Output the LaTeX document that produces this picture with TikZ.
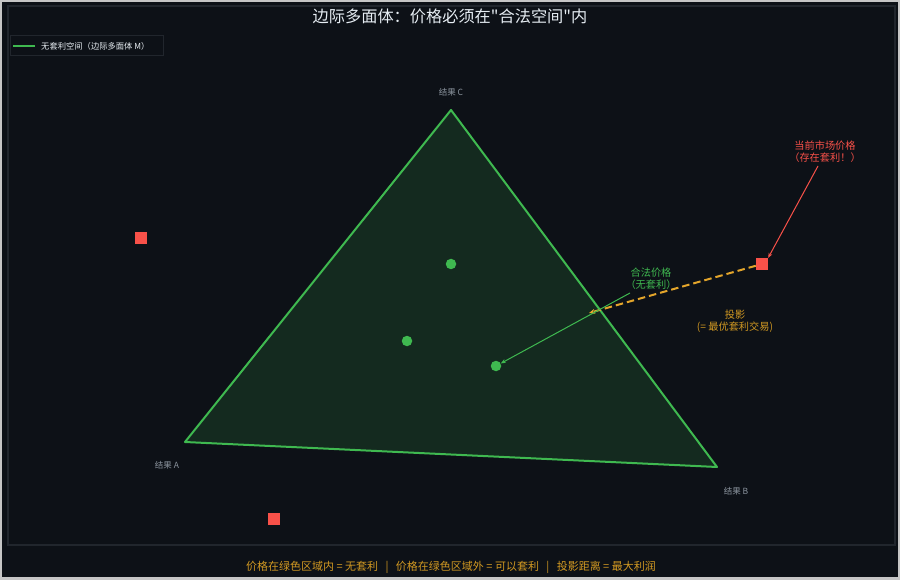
\documentclass[tikz,border=0pt]{standalone}
\usepackage{fontspec}
\setmainfont{Noto Sans CJK SC}
\newfontfamily\plaincjk{Noto Sans CJK SC}
\usetikzlibrary{arrows.meta, positioning}

\definecolor{bgdark}{HTML}{0D1117}
\definecolor{framegray}{HTML}{21262D}
\definecolor{okgreen}{HTML}{3FB950}
\definecolor{badred}{HTML}{F85149}
\definecolor{projorange}{HTML}{E3A52B}
\definecolor{notegold}{HTML}{D29922}
\definecolor{labelgray}{HTML}{8B949E}
\definecolor{titlewhite}{HTML}{E6EDF3}

\tikzset{
  vertexlabel/.style = {text=labelgray, font=\fontsize{8.5}{10}\selectfont},
  gooddot/.style = {circle, fill=okgreen, inner sep=0pt, minimum size=10.5pt},
  badprice/.style = {rectangle, fill=badred, inner sep=0pt, minimum size=12pt},
  notetext/.style = {align=center, font=\fontsize{10.2}{12}\selectfont}
}

\begin{document}
\begin{tikzpicture}[x=1pt, y=-1pt]
  \useasboundingbox (0,0) rectangle (900,580);
  \fill [gray!45] (0,0) rectangle (900,580);
  \fill [bgdark] (2,2) rectangle (898,577);
  \draw [framegray, line width=1.2pt] (8,6) rectangle (895,545);

  \node (title) [text=titlewhite, font=\plaincjk\fontsize{16.2}{19}\selectfont] at (450,16)
    {边际多面体：价格必须在"合法空间"内};

  % legend
  \node (legendbox) [draw=framegray, fill=bgdark, minimum width=153pt, minimum height=20pt,
    inner sep=0pt] at (86.5,45.5) {};
  \coordinate (legendA) at (13,46);
  \coordinate (legendB) at (35,46);
  \draw [okgreen, line width=2pt] (legendA) -- (legendB);
  \node (legendtext) [text=titlewhite!85, font=\fontsize{8.3}{10}\selectfont, anchor=west,
    inner sep=0pt] at (41,46) {无套利空间（边际多面体 M）};

  % polytope
  \coordinate (vA) at (185,442);
  \coordinate (vB) at (717,467);
  \coordinate (vC) at (451,110);
  \filldraw [fill=okgreen, fill opacity=0.15, draw=okgreen, line width=2pt, line join=round]
    (vA) -- (vB) -- (vC) -- cycle;

  \node (labA) [vertexlabel] at (167,465) {结果 A};
  \node (labB) [vertexlabel] at (736,491) {结果 B};
  \node (labC) [vertexlabel] at (451,92) {结果 C};

  \node (dot1) [gooddot] at (451,264) {};
  \node (dot2) [gooddot] at (407,341) {};
  \node (dot3) [gooddot] at (496,366) {};

  \node (bad1) [badprice] at (141,238) {};
  \node (bad2) [badprice] at (274,519) {};
  \node (market) [badprice] at (762,264) {};

  % annotations
  \node (marketlbl) [notetext, text=badred] at (825,152) {当前市场价格\\（存在套利！）};
  \node (legallbl) [notetext, text=okgreen] at (651,279) {合法价格\\（无套利）};
  \node (projlbl) [notetext, text=notegold] at (735,321) {投影\\(= 最优套利交易)};

  \coordinate (proj) at (589,313);
  \coordinate (legalfoot) at (630,293);
  \coordinate (marketfoot) at (818,166);

  \draw [projorange, line width=2pt, dashed, dash pattern=on 7.5pt off 4pt,
    -{Stealth[length=6pt, width=5pt]}] (market) -- (proj);
  \draw [okgreen, line width=1pt, -{Stealth[length=5pt, width=4pt]}] (legalfoot) -- (dot3);
  \draw [badred, line width=1pt, -{Stealth[length=5pt, width=4pt]}] (marketfoot) -- (market.north east);

  \node (footer) [text=notegold, font=\fontsize{11}{13}\selectfont] at (451,567)
    {价格在绿色区域内 = 无套利 \ \ | \ \ 价格在绿色区域外 = 可以套利 \ \ | \ \ 投影距离 = 最大利润};
\end{tikzpicture}
\end{document}
